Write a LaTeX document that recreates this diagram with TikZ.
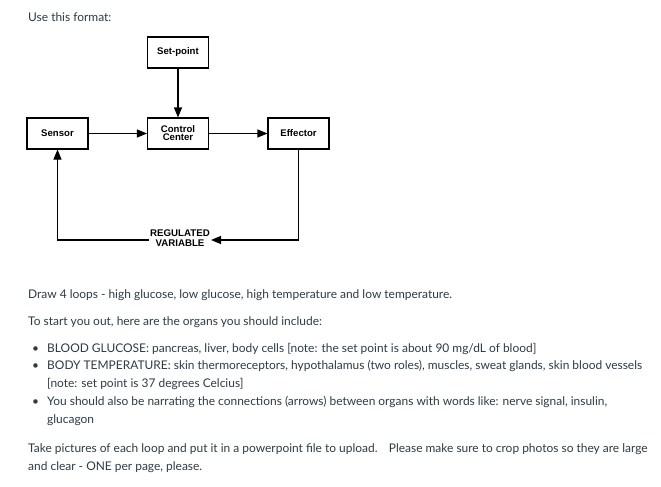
\documentclass[tikz,border=0pt]{standalone}
\usepackage{fontspec}
\setmainfont{Lato}
\newfontfamily\diafont{Liberation Sans}
\usetikzlibrary{arrows.meta}
\definecolor{txt}{HTML}{2D3B45}
\begin{document}
\begin{tikzpicture}[x=1pt,y=-1pt,
  box/.style={draw=black,line width=1.1pt,minimum width=61pt,minimum height=31pt,inner sep=0pt,font=\diafont\bfseries\fontsize{9.6}{9.6}\selectfont,align=center},
  conn/.style={line width=1.1pt,-{Triangle[length=10pt,width=8pt]}},
  para/.style={anchor=west,inner sep=0pt,text=txt,font=\fontsize{11.95}{13}\selectfont,text height=8pt,text depth=2.5pt},
  lbl/.style={font=\diafont\bfseries\fontsize{9.7}{10}\selectfont,align=center,inner sep=1pt}]
\useasboundingbox[fill=white] (0,0) rectangle (661,487);
\node[para] (t0) at (28,19) {Use this format:};
\node[box] (sp) at (178,52.5) {Set-point};
\node[box] (sen) at (57.5,133.5) {Sensor};
\node[box] (cc) at (178,133.5) {Control\\[-1.5pt]Center};
\node[box] (eff) at (298.5,133.5) {Effector};
\node[lbl] (rv) at (180,238) {REGULATED\\VARIABLE};
\coordinate (c1) at (eff.south |- 0,240);
\coordinate (c2) at (sen.south |- 0,240);
\draw[conn] (sp) -- (cc);
\draw[conn] (sen) -- (cc);
\draw[conn] (cc) -- (eff);
\draw[conn] (eff.south) -- (c1) -- (rv.east |- c1);
\draw[conn] (rv.west |- c2) -- (c2) -- (sen.south);
\node[para] (t1) at (28,296) {Draw 4 loops - high glucose, low glucose, high temperature and low temperature.};
\node[para] (t2) at (28,323) {To start you out, here are the organs you should include:};
\node[para] (b1) at (32,350) {•};
\node[para] (t3) at (47,350) {BLOOD GLUCOSE: pancreas, liver, body cells [note: the set point is about 90 mg/dL of blood]};
\node[para] (b2) at (32,367) {•};
\node[para] (t4) at (47,367) {BODY TEMPERATURE: skin thermoreceptors, hypothalamus (two roles), muscles, sweat glands, skin blood vessels};
\node[para] (t5) at (47,385) {[note: set point is 37 degrees Celcius]};
\node[para] (b3) at (32,403) {•};
\node[para] (t6) at (47,403) {You should also be narrating the connections (arrows) between organs with words like: nerve signal, insulin,};
\node[para] (t7) at (47,421) {glucagon};
\node[para] (t8) at (28,450) {Take pictures of each loop and put it in a powerpoint file to upload.\hspace{0.6em} Please make sure to crop photos so they are large};
\node[para] (t9) at (28,468) {and clear - ONE per page, please.};
\end{tikzpicture}
\end{document}
